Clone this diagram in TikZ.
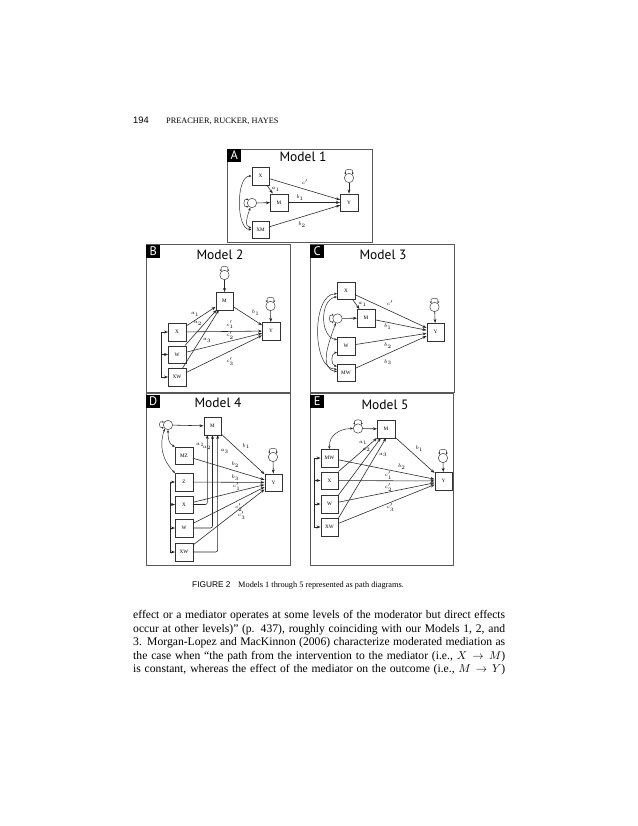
\documentclass[tikz,border=0pt]{standalone}
\usepackage{fontspec}
\setmainfont{Liberation Serif}
\newfontfamily\modelfont{PT Sans}
\newfontfamily\folioface{Liberation Sans}
\usetikzlibrary{arrows.meta}

\begin{document}
\begin{tikzpicture}[
  x=0.9592bp,y=0.9592bp,
  panel/.style={draw=black!65,line width=0.9bp},
  tag/.style={fill=black,text=white,anchor=north west,inner sep=0pt,
    minimum width=13.4bp,minimum height=11.8bp,
    font=\modelfont\fontsize{12}{12}\selectfont},
  title/.style={inner sep=0pt,font=\modelfont\fontsize{13}{13}\selectfont},
  var/.style={draw=black!80,line width=0.45bp,fill=white,inner sep=0pt,
    minimum size=16.8bp,font=\fontsize{5}{6}\selectfont},
  dist/.style={circle,draw=black!80,line width=0.45bp,inner sep=0pt,
    minimum size=9bp},
  arr/.style={-{Stealth[length=3.8bp,width=2.8bp]},line width=0.55bp,
    draw=black!85},
  cov/.style={{Stealth[length=2.8bp,width=2.2bp]}-{Stealth[length=2.8bp,width=2.2bp]},
    line width=0.45bp,draw=black!85},
  varloop/.style={{Stealth[length=2bp,width=1.8bp]}-{Stealth[length=2bp,width=1.8bp]},
    line width=0.4bp,draw=black!85},
  link/.style={line width=0.55bp,draw=black!85},
  coef/.style={inner sep=0.6bp,font=\fontsize{4.5}{5}\selectfont}
]
\fill[white] (0,0) rectangle (638,-826);
\useasboundingbox (0,0) rectangle (638,-826);

% running head
\node[anchor=base west,inner sep=0pt,font=\folioface\fontsize{9}{9}\selectfont]
  (folio) at (133,-123.3) {194};
\node[anchor=base west,inner sep=0pt,font=\fontsize{8}{8}\selectfont]
  (runhead) at (166,-123.3) {PREACHER, RUCKER, HAYES};

% Model 1
\draw[panel] (227,-149) rectangle (372,-242);
\node[tag] (aTag) at (227,-149) {A};
\node[title] (aTitle) at (303,-157) {Model 1};
\node[var] (aX) at (260.5,-176) {X};
\node[var] (aM) at (279,-202.5) {M};
\node[var] (aXM) at (260.5,-229.5) {XM};
\node[var] (aY) at (349,-202.5) {Y};
\node[dist] (aMe) at (252,-203) {};
\node[dist] (aYe) at (349,-178) {};
\draw[arr] (aYe) -- (aY);
\draw[arr] (aMe) -- (aM);
\draw[arr] (aX) -- node[coef,right=1bp]{$a_1$} (aM);
\draw[arr] (aX) -- node[coef,above=4bp]{$c'$} (aY);
\draw[arr] (aM) -- node[coef,pos=.23,above=1.5bp]{$b_1$} (aY);
\draw[arr] (aXM) -- node[coef,pos=.46,below=4bp]{$b_2$} (aY);
\draw[cov] (aX.west) to[out=180,in=180,looseness=.75] (aXM.west);
\draw[cov] (aMe.250) to[out=250,in=170] (aXM.170);
\draw[varloop] (aYe.130) .. controls +(115:7) and +(65:7) .. (aYe.50);
\draw[varloop] (aMe.220) .. controls +(205:6) and +(155:6) .. (aMe.140);

% Model 2
\draw[panel] (146,-244) rectangle (290,-392.5);
\node[tag] (bTag) at (146,-245) {B};
\node[title] (bTitle) at (220,-255) {Model 2};
\node[var] (bM) at (224.5,-301) {M};
\node[var] (bY) at (271,-331) {Y};
\node[var] (bX) at (177,-332) {X};
\node[var] (bW) at (177,-354.5) {W};
\node[var] (bXW) at (177,-377) {XW};
\node[dist] (bMe) at (224.5,-275) {};
\node[dist] (bYe) at (270.5,-306) {};
\coordinate (bL) at (161,-332);
\draw[arr] (bMe) -- (bM);
\draw[arr] (bYe) -- (bY);
\draw[link] (bL) -- (bL |- bXW);
\draw[arr] (bL) -- (bX);
\draw[arr] (bL |- bW) -- (bW);
\draw[arr] (bL |- bXW) -- (bXW);
\draw[arr] (bX) -- node[coef,pos=.31,above=3bp]{$a_1$} (bM);
\draw[arr] (bW) -- node[coef,pos=.63,left=2bp]{$a_2$} (bM);
\draw[arr] (bXW) -- node[coef,pos=.48,right=2bp]{$a_3$} (bM);
\draw[arr] (bM) -- node[coef,pos=.58,above right=1bp]{$b_1$} (bY);
\draw[arr] (bX) -- node[coef,pos=.58,above=1.5bp]{$c'_1$} (bY);
\draw[arr] (bW) -- node[coef,pos=.58,above=.5bp]{$c'_2$} (bY);
\draw[arr] (bXW) -- node[coef,pos=.58,below=5bp]{$c'_3$} (bY);
\draw[varloop] (bMe.130) .. controls +(115:7) and +(65:7) .. (bMe.50);
\draw[varloop] (bYe.130) .. controls +(115:7) and +(65:7) .. (bYe.50);

% Model 3
\draw[panel] (310,-244) rectangle (454,-392.5);
\node[tag] (cTag) at (310,-245) {C};
\node[title] (cTitle) at (383,-255) {Model 3};
\node[var] (cX) at (346,-290.5) {X};
\node[var] (cM) at (366,-318) {M};
\node[var] (cW) at (346,-346) {W};
\node[var] (cMW) at (346,-372.5) {MW};
\node[var] (cY) at (435.5,-332) {Y};
\node[dist] (cMe) at (337.5,-318.5) {};
\node[dist] (cYe) at (434.5,-307) {};
\draw[arr] (cMe) -- (cM);
\draw[arr] (cYe) -- (cY);
\draw[arr] (cX) -- node[coef,right=1.5bp]{$a_1$} (cM);
\draw[arr] (cX) -- node[coef,pos=.49,above=4bp]{$c'$} (cY);
\draw[arr] (cM) -- node[coef,pos=.25,below=.5bp]{$b_1$} (cY);
\draw[arr] (cW) -- node[coef,pos=.46,below=2.5bp]{$b_2$} (cY);
\draw[arr] (cMW) -- node[coef,pos=.46,below=5bp]{$b_3$} (cY);
\draw[cov] (cX.200) to[out=180,in=180,looseness=.86] (cMW.160);
\draw[cov] (cX.215) to[out=190,in=170,looseness=1.05] (cW.145);
\draw[cov] (cW.215) to[out=190,in=170,looseness=1.2] (cMW.145);
\draw[cov] (cMe.250) to[out=250,in=170] (cMW.175);
\draw[varloop] (cMe.220) .. controls +(205:6) and +(155:6) .. (cMe.140);
\draw[varloop] (cYe.130) .. controls +(115:7) and +(65:7) .. (cYe.50);

% Model 4
\draw[panel] (146,-393.5) rectangle (290,-565);
\node[tag] (dTag) at (146,-395) {D};
\node[title] (dTitle) at (218,-403) {Model 4};
\node[var] (dM) at (212.5,-426) {M};
\node[var] (dMZ) at (184,-455.5) {MZ};
\node[var] (dZ) at (184,-482) {Z};
\node[var] (dX) at (184,-504.5) {X};
\node[var] (dW) at (184,-528) {W};
\node[var] (dXW) at (184,-552) {XW};
\node[var] (dY) at (273.5,-482.5) {Y};
\node[dist] (dMe) at (168,-425) {};
\node[dist] (dYe) at (273,-457) {};
\coordinate (dL) at (170,-482);
\draw[arr] (dMe) -- (dM);
\draw[arr] (dYe) -- (dY);
\draw[link] (dL) -- (dL |- dXW);
\draw[arr] (dL) -- (dZ);
\draw[arr] (dL |- dX) -- (dX);
\draw[arr] (dL |- dW) -- (dW);
\draw[arr] (dL |- dXW) -- (dXW);
\draw[arr,rounded corners=2bp] (dX.east) -| node[coef,pos=.93,left=2bp]{$a_1$} (dM.240);
\draw[arr,rounded corners=2bp] (dW.east) -| node[coef,pos=.93,left=.5bp]{$a_2$} (dM.south);
\draw[arr,rounded corners=2bp] (dXW.east) -| node[coef,pos=.93,right=2bp]{$a_3$} (dM.300);
\draw[arr] (dM) -- node[coef,pos=.43,above right=1.5bp]{$b_1$} (dY);
\draw[arr] (dMZ) -- node[coef,pos=.59,above=2.5bp]{$b_2$} (dY);
\draw[arr] (dZ) -- node[coef,pos=.59,above=1bp]{$b_3$} (dY);
\draw[arr] (dX) -- node[coef,pos=.61,above=0bp]{$c'_1$} (dY);
\draw[arr] (dW) -- node[coef,pos=.64,below=2bp]{$c'_2$} (dY);
\draw[arr] (dXW) -- node[coef,pos=.68,below=3bp]{$c'_3$} (dY);
\draw[cov] (dMe.230) to[out=250,in=135] (dZ.north west);
\draw[cov] (dMe.south) to[out=270,in=160] (dMZ.north west);
\draw[varloop] (dMe.210) .. controls +(195:6) and +(145:6) .. (dMe.150);
\draw[varloop] (dYe.130) .. controls +(115:7) and +(65:7) .. (dYe.50);

% Model 5
\draw[panel] (310,-393.5) rectangle (453,-565);
\node[tag] (eTag) at (310,-395) {E};
\node[title] (eTitle) at (385,-405) {Model 5};
\node[var] (eM) at (386,-429) {M};
\node[var] (eMW) at (329.5,-458) {MW};
\node[var] (eX) at (329.5,-480.5) {X};
\node[var] (eW) at (329.5,-504) {W};
\node[var] (eXW) at (329.5,-527) {XW};
\node[var] (eY) at (443.5,-481) {Y};
\node[dist] (eMe) at (358,-428.5) {};
\node[dist] (eYe) at (443,-458) {};
\coordinate (eL) at (314,-458);
\draw[arr] (eMe) -- (eM);
\draw[arr] (eYe) -- (eY);
\draw[link] (eL) -- (eL |- eXW);
\draw[arr] (eL) -- (eMW);
\draw[arr] (eL |- eX) -- (eX);
\draw[arr] (eL |- eW) -- (eW);
\draw[arr] (eL |- eXW) -- (eXW);
\draw[arr] (eX.north east) -- node[coef,pos=.85,left=3bp]{$a_1$} (eM.south west);
\draw[arr] (eW.north east) -- node[coef,pos=.79,left=.5bp]{$a_2$} (eM.240);
\draw[arr] (eXW.north east) -- node[coef,pos=.79,right=2bp]{$a_3$} (eM.south);
\draw[arr] (eM) -- node[coef,pos=.46,above right=1.5bp]{$b_1$} (eY);
\draw[arr] (eMW) -- node[coef,pos=.66,above=2.5bp]{$b_2$} (eY);
\draw[arr] (eX) -- node[coef,pos=.52,above=0bp]{$c'_1$} (eY);
\draw[arr] (eW) -- node[coef,pos=.52,above=0bp]{$c'_2$} (eY);
\draw[arr] (eXW) -- node[coef,pos=.54,below=.5bp]{$c'_3$} (eY);
\draw[cov] (eMW.north) to[out=95,in=180,looseness=1.1] (eMe.west);
\draw[varloop] (eMe.130) .. controls +(115:7) and +(65:7) .. (eMe.50);
\draw[varloop] (eYe.130) .. controls +(115:7) and +(65:7) .. (eYe.50);

% caption and text
\node[anchor=base west,inner sep=0pt,font=\folioface\fontsize{8}{8}\selectfont]
  (figno) at (192,-587) {FIGURE 2};
\node[anchor=base west,inner sep=0pt,font=\fontsize{8}{8}\selectfont]
  (caption) at (238,-587) {Models 1 through 5 represented as path diagrams.};
\node[anchor=north west,inner sep=0pt,align=left,
  font=\fontsize{11.2}{13.1}\selectfont] (body) at (133,-610) {%
  \makebox[356.8bp][s]{effect or a mediator operates at some levels of the moderator but direct effects}\\
  \makebox[356.8bp][s]{occur at other levels)'' (p. 437), roughly coinciding with our Models 1, 2, and}\\
  \makebox[356.8bp][s]{3. Morgan-Lopez and MacKinnon (2006) characterize moderated mediation as}\\
  \makebox[356.8bp][s]{the case when ``the path from the intervention to the mediator (i.e., $X\rightarrow M$)}\\
  \makebox[356.8bp][s]{is constant, whereas the effect of the mediator on the outcome (i.e., $M\rightarrow Y$)}};
\end{tikzpicture}
\end{document}
